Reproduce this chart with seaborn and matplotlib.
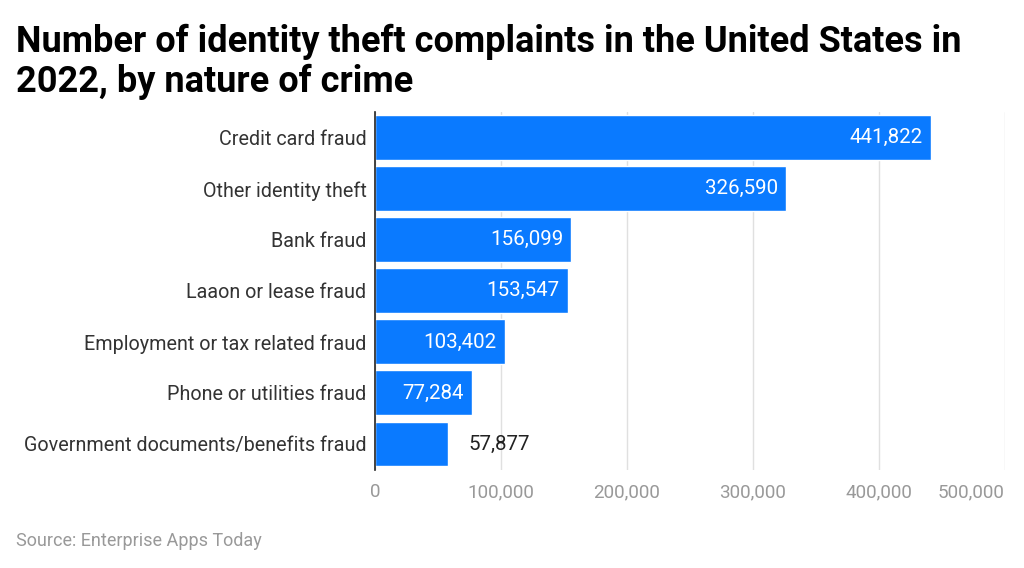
import matplotlib
matplotlib.use("Agg")
import matplotlib.pyplot as plt
import seaborn as sns
import pandas as pd
from matplotlib.ticker import FuncFormatter

categories = ["Credit card fraud", "Other identity theft", "Bank fraud",
              "Laaon or lease fraud", "Employment or tax related fraud",
              "Phone or utilities fraud", "Government documents/benefits fraud"]
values = [441822, 326590, 156099, 153547, 103402, 77284, 57877]
ticks = [0, 100000, 200000, 300000, 400000, 500000]
title_lines = ["Number of identity theft complaints in the United States in",
               "2022, by nature of crime"]

sns.set_theme(style="white")
plt.rcParams['font.family'] = ['Roboto', 'DejaVu Sans']

df = pd.DataFrame({"category": categories, "value": values})

fig = plt.figure(figsize=(10.24, 5.68), dpi=100)
ax = fig.add_axes([0.366, 0.1734, 0.615, 0.629])
sns.barplot(data=df, x="value", y="category", color="#0A7AFF", saturation=1,
            width=0.88, ax=ax, zorder=3)

ax.set_xlim(0, 500000)
ax.set_ylim(6.5, -0.5)
ax.set_xticks(ticks)
ax.xaxis.set_major_formatter(FuncFormatter(lambda v, p: f"{int(v):,}"))
ax.tick_params(axis='x', colors="#999999", labelsize=13.6, length=0, pad=10)
ax.tick_params(axis='y', colors="#333333", labelsize=14.2, length=0, pad=6)
xl = ax.get_xticklabels()
xl[-1].set_horizontalalignment("right")
xl[-1].set_x(500000)
for lbl in xl:
    lbl.set_color("#999999")
for lbl in ax.get_yticklabels():
    lbl.set_color("#333333")
ax.set_xlabel("")
ax.set_ylabel("")
ax.grid(axis='x', color="#e0e0e0", linewidth=1, zorder=0)
for s in ["top", "right", "bottom"]:
    ax.spines[s].set_visible(False)
ax.spines["left"].set_color("#222222")
ax.spines["left"].set_linewidth(1.2)
ax.spines["left"].set_zorder(4)

for i, v in enumerate(values):
    if v > 70000:
        ax.annotate(f"{v:,}", (v, i), xytext=(-6, 0), textcoords="offset points",
                    ha="right", va="center", color="white", fontsize=14.8, zorder=5)
    else:
        ax.annotate(f"{v:,}", (v, i), xytext=(15, 0), textcoords="offset points",
                    ha="left", va="center", color="#222222", fontsize=14.8, zorder=5)

fig.text(0.016, 1 - 52 / 568, title_lines[0], ha="left", va="baseline",
         fontsize=26, fontweight="bold", color="#000000")
fig.text(0.016, 1 - 92 / 568, title_lines[1], ha="left", va="baseline",
         fontsize=26, fontweight="bold", color="#000000")
fig.text(0.016, 0.048, "Source: Enterprise Apps Today", ha="left", va="center",
         fontsize=13, color="#999999")

fig.savefig("out.png", dpi=100)
